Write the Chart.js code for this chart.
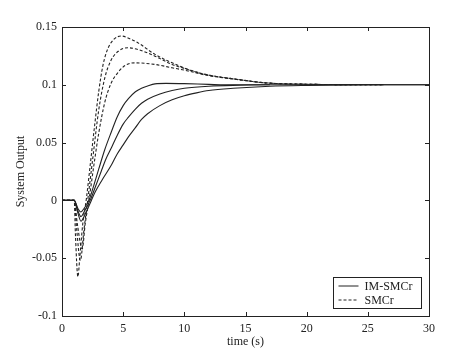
<!DOCTYPE html>
<html>
<head>
<meta charset="utf-8">
<script src="https://cdn.jsdelivr.net/npm/chart.js@4.4.0/dist/chart.umd.min.js"></script>
<style>
html,body{margin:0;padding:0;background:#fff}
#wrap{width:474px;height:355px}
</style>
</head>
<body>
<div id="wrap"><canvas id="c" width="474" height="355"></canvas></div>
<script>
// IM-SMCr responses (solid)
const tS1=[0,1,1.3,1.55,1.8,2.2,2.6,3,3.5,4.06,4.5,5,5.43,6,6.5,7,7.6,8.5,10,12,14,17];
const yS1=[0,0,-0.007,-0.010,-0.007,0,0.013,0.027,0.044,0.060,0.072,0.082,0.088,0.094,0.097,0.099,0.1008,0.1012,0.101,0.1004,0.1,0.1];
const tS2=[0,1,1.3,1.55,1.8,2.3,2.7,3.2,3.6,4.06,4.5,5,5.43,6,6.5,7,8,9,10,12,14.5,17,30];
const yS2=[0,0,-0.009,-0.014,-0.010,0,0.011,0.025,0.036,0.046,0.056,0.066,0.072,0.079,0.084,0.0875,0.092,0.095,0.097,0.0988,0.0996,0.1,0.1];
const tS3=[0,1,1.3,1.55,1.85,2.4,2.7,3.3,4.06,4.5,5,5.43,6,6.5,7,8,9,10,11,12,14,17,20,25,30];
const yS3=[0,0,-0.011,-0.018,-0.013,0,0.007,0.018,0.031,0.040,0.048,0.055,0.063,0.070,0.075,0.082,0.087,0.0905,0.093,0.095,0.097,0.0988,0.0995,0.1,0.1];
// SMCr responses (dashed)
const tD1=[0,1,1.1,1.3,1.45,1.7,2,2.3,2.67,3,3.35,3.7,4.2,4.86,5.5,6.2,7.6,9,10.3,11.7,14.4,16.6,20,26.3];
const yD1=[0,0,-0.03,-0.066,-0.05,-0.02,0.002,0.03,0.065,0.094,0.117,0.13,0.139,0.1422,0.14,0.1364,0.1263,0.119,0.1133,0.109,0.1046,0.1017,0.1005,0.1];
const tD2=[0,1,1.2,1.5,1.8,2.1,2.5,3,3.5,4,4.6,5.4,6.2,7.6,9,10.3,11.7,14.4,16.6,20,26.3];
const yD2=[0,0,-0.025,-0.052,-0.025,0,0.035,0.078,0.106,0.121,0.129,0.132,0.1306,0.1248,0.1176,0.1133,0.109,0.1046,0.1017,0.1005,0.1];
const tD3=[0,1,1.25,1.65,1.9,2.2,2.6,3,3.5,4,4.6,5.2,5.95,7.6,9,10.3,11.7,14.4,16.6,20,26.3];
const yD3=[0,0,-0.02,-0.042,-0.02,0,0.03,0.058,0.085,0.101,0.111,0.117,0.119,0.1176,0.1147,0.112,0.1085,0.1045,0.1017,0.1005,0.1];

const legendNames=['IM-SMCr','SMCr'];
const xTicks=[0,5,10,15,20,25,30];
const yTicks=[-0.1,-0.05,0,0.05,0.1,0.15];

const pts=(t,y)=>t.map((v,i)=>({x:v,y:y[i]}));
const ink='#222';
const mk=(t,y,dash,label)=>({label,data:pts(t,y),borderColor:ink,borderWidth:1.1,borderDash:dash,pointRadius:0,showLine:true,fill:false,cubicInterpolationMode:'monotone'});

const frame={
  id:'frame',
  afterDatasetsDraw(chart){
    const {ctx}=chart, xs=chart.scales.x, ys=chart.scales.y;
    const L=xs.left,R=xs.right,T=ys.top,B=ys.bottom,tl=4;
    ctx.save();
    ctx.strokeStyle=ink; ctx.lineWidth=1;
    ctx.strokeRect(Math.round(L)+0.5,Math.round(T)+0.5,Math.round(R-L),Math.round(B-T));
    ctx.beginPath();
    xTicks.forEach(v=>{const p=Math.round(xs.getPixelForValue(v))+0.5;ctx.moveTo(p,B);ctx.lineTo(p,B-tl);ctx.moveTo(p,T);ctx.lineTo(p,T+tl);});
    yTicks.forEach(v=>{const p=Math.round(ys.getPixelForValue(v))+0.5;ctx.moveTo(L,p);ctx.lineTo(L+tl,p);ctx.moveTo(R,p);ctx.lineTo(R-tl,p);});
    ctx.stroke();
    // legend box
    const bw=88,bh=31,bx=Math.round(R-8-bw)+0.5,by=Math.round(B-8-bh)+0.5;
    ctx.fillStyle='#fff'; ctx.fillRect(bx,by,bw,bh); ctx.strokeRect(bx,by,bw,bh);
    ctx.font='12px "Liberation Serif"'; ctx.fillStyle=ink; ctx.textBaseline='middle';
    [[[],legendNames[0]],[[3,2],legendNames[1]]].forEach((e,i)=>{
      const yy=by+8.5+i*14;
      ctx.setLineDash(e[0]); ctx.beginPath(); ctx.moveTo(bx+5,yy); ctx.lineTo(bx+25,yy); ctx.stroke();
      ctx.setLineDash([]); ctx.fillText(e[1],bx+31,yy+0.5);
    });
    ctx.restore();
  }
};

const font={family:'"Liberation Serif"',size:12};
new Chart(document.getElementById('c'),{
  type:'scatter',
  data:{datasets:[
    mk(tS1,yS1,[],legendNames[0]),mk(tS2,yS2,[],legendNames[0]),mk(tS3,yS3,[],legendNames[0]),
    mk(tD1,yD1,[3,2],legendNames[1]),mk(tD2,yD2,[3,2],legendNames[1]),mk(tD3,yD3,[3,2],legendNames[1])
  ]},
  options:{
    responsive:false,animation:false,
    layout:{padding:{left:0,right:45,top:27,bottom:0}},
    plugins:{legend:{display:false},tooltip:{enabled:false}},
    scales:{
      x:{type:'linear',min:0,max:30,
        afterBuildTicks:s=>{s.ticks=xTicks.map(v=>({value:v}));},
        afterFit:s=>{s.height=39;},
        grid:{display:false,drawTicks:false},border:{display:false},
        ticks:{color:ink,font,padding:6,maxRotation:0},
        title:{display:true,text:'time (s)',color:ink,font,padding:{top:0,bottom:6}}},
      y:{type:'linear',min:-0.1,max:0.15,
        afterBuildTicks:s=>{s.ticks=yTicks.map(v=>({value:v}));},
        afterFit:s=>{s.width=62;},
        grid:{display:false,drawTicks:false},border:{display:false},
        ticks:{color:ink,font,padding:5,callback:v=>String(+v.toFixed(2))},
        title:{display:true,text:'System Output',color:ink,font,padding:{top:14,bottom:0}}}
    }
  },
  plugins:[frame]
});
</script>
</body>
</html>
